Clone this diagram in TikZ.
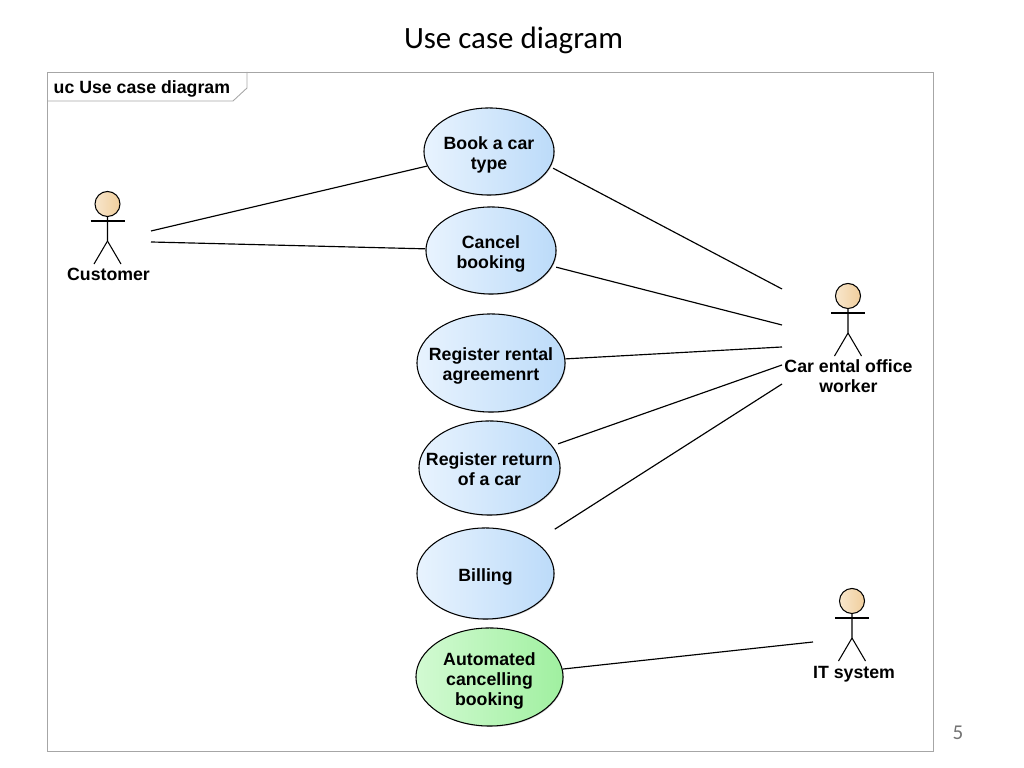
\documentclass[tikz,border=0pt]{standalone}
\usepackage{fontspec}
\setmainfont{Liberation Sans}
\newfontfamily\titlefont{Carlito}
\usetikzlibrary{positioning,shapes.geometric,shadows}

\definecolor{caseleft}{HTML}{E8F3FE}
\definecolor{caseright}{HTML}{BCDBF9}
\definecolor{autoleft}{HTML}{D2FAD2}
\definecolor{autoright}{HTML}{A0F0A0}
\definecolor{headleft}{HTML}{F8E6CC}
\definecolor{headright}{HTML}{F0CE9C}

\tikzset{
	lift/.style={execute at begin node={\rule{0pt}{#1}}},
	usecase/.style={ellipse,draw=black,line width=0.3pt,inner xsep=-4pt,inner ysep=0pt,align=center,
		font=\fontsize{5.04}{5.67}\selectfont\bfseries,left color=caseleft,right color=caseright,
		drop shadow={shadow xshift=0.25pt,shadow yshift=-0.25pt,opacity=0.35}},
	autocase/.style={usecase,left color=autoleft,right color=autoright},
	actorname/.style={align=center,inner sep=0pt,font=\fontsize{5.04}{5.67}\selectfont\bfseries},
	assoc/.style={line width=0.33pt,black},
}

\begin{document}
\begin{tikzpicture}[x=0.01cm,y=-0.01cm]
\useasboundingbox (0,0) rectangle (1024,768);

\node[font=\fontsize{8.8}{11}\titlefont,inner sep=0pt] (title) at (513.5,40.5) {Use case diagram};
\node[font=\fontsize{6}{7}\titlefont,text=black!55,inner sep=0pt] (pagenum) at (958,733) {5};

% frame and its tab
\draw[black!35,line width=0.25pt] (47,72) rectangle (933,751);
\draw[black!35,line width=0.25pt] (47,101)--(233,101)--(247,88)--(247,72);
\node[actorname,anchor=west] (frametab) at (53,89) {uc Use case diagram};

% use cases
\node[usecase,lift=11.1pt,minimum width=1.30cm,minimum height=0.87cm] (book) at (489,151.5) {Book a car\\type};
\node[usecase,lift=11.1pt,minimum width=1.30cm,minimum height=0.87cm] (cancel) at (491,250.5) {Cancel\\booking};
\node[usecase,lift=11.1pt,minimum width=1.48cm,minimum height=0.98cm] (rental) at (491,363) {Register rental\\agreemenrt};
\node[usecase,lift=9.9pt,minimum width=1.41cm,minimum height=0.94cm] (return) at (489.5,468) {Register return\\of a car};
\node[usecase,lift=5.4pt,minimum width=1.37cm,minimum height=0.91cm] (billing) at (485.5,573.5) {Billing};
\node[autocase,lift=17.3pt,minimum width=1.47cm,minimum height=0.98cm] (auto) at (489.5,677) {Automated\\cancelling\\booking};

% actors
\foreach \n/\x/\y in {customer/107.5/204,worker/848/296,itsys/852/601}{
	\node[circle,draw=black,line width=0.3pt,minimum size=0.25cm,inner sep=0pt,left color=headleft,right color=headright] (\n) at (\x,\y) {};
	\draw[line width=0.3pt] (\n.south)--++(0,24)coordinate(\n hip)--++(-13.5,23);
	\draw[line width=0.3pt] (\n hip)--++(13.5,23);
	\draw[line width=0.3pt] (\x-17,\y+17)--(\x+17,\y+17);
}
\node[actorname] (customername) at (108.5,274) {Customer};
\node[actorname] (workername) at (848.5,376) {Car ental office\\worker};
\node[actorname] (itsysname) at (854,674) {IT system};

% free ends of the associations
\coordinate (c1) at (151,231);
\coordinate (c2) at (151,242);
\coordinate (w1) at (782,289);
\coordinate (w2) at (782,325);
\coordinate (w3) at (782,347);
\coordinate (w4) at (782,365);
\coordinate (w5) at (782,384);
\coordinate (i1) at (813,642);

\foreach \x/\y/\g in {c1/book/0,c2/cancel/0,w2/cancel/0.04,w3/rental/0,w4/return/0.06,w5/billing/0.23,i1/auto/0}
	\draw[assoc,shorten >=\g cm](\x)--(\y);
\draw[assoc,shorten <=0.03cm](book.-14)--(w1);

\end{tikzpicture}
\end{document}
